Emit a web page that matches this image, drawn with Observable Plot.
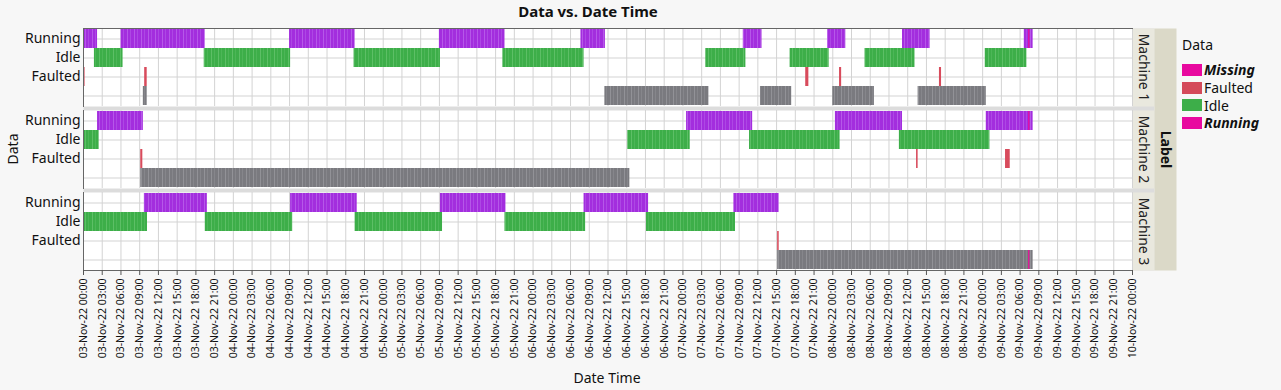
<!DOCTYPE html>
<html>
<head>
<meta charset="utf-8">
<script src="https://cdn.jsdelivr.net/npm/d3@7"></script>
<script src="https://cdn.jsdelivr.net/npm/@observablehq/plot@0.6"></script>
<style>
  html, body { margin: 0; padding: 0; background: #f7f7f7; }
  #wrap { position: relative; width: 1281px; height: 390px; font-family: 'Noto Sans', sans-serif; color: #111; overflow: hidden; }
  #title { position: absolute; left: 0; top: 1px; width: 1176px; text-align: center; font-size: 15px; font-weight: bold; line-height: 20px; }
  #chart { position: absolute; left: 0; top: 24px; }
  #ylab { position: absolute; left: 12px; top: 149px; transform: translate(-50%, -50%) rotate(-90deg); font-size: 14px; white-space: nowrap; }
  #xlab { position: absolute; left: 607px; top: 369px; transform: translateX(-50%); font-size: 14px; line-height: 18px; white-space: nowrap; }
  #legend { position: absolute; left: 1182px; top: 35px; font-size: 14px; }
  #legend .head { line-height: 20px; margin-bottom: 6px; }
  #legend .row { display: flex; align-items: center; height: 17.7px; }
  #legend .sw { width: 20px; height: 12px; margin-right: 2px; }
  #legend .bi { font-weight: bold; font-style: italic; }
</style>
</head>
<body>
<svg width="0" height="0" style="position:absolute">
  <defs>
    <pattern id="pRun" width="7" height="40" patternUnits="userSpaceOnUse">
      <rect width="7" height="40" fill="#a32ede"/>
      <rect x="1" width="1" height="40" fill="#b658e9"/>
      <rect x="4" width="1" height="40" fill="#ad48e4"/>
    </pattern>
    <pattern id="pIdle" width="7" height="40" patternUnits="userSpaceOnUse">
      <rect width="7" height="40" fill="#3dae49"/>
      <rect x="1" width="1" height="40" fill="#5dbf66"/>
      <rect x="4" width="1" height="40" fill="#4cb657"/>
    </pattern>
    <pattern id="pMiss" width="7" height="40" patternUnits="userSpaceOnUse">
      <rect width="7" height="40" fill="#7a7a7f"/>
      <rect x="1" width="1" height="40" fill="#929297"/>
      <rect x="4" width="1" height="40" fill="#86868b"/>
    </pattern>
  </defs>
</svg>
<div id="wrap">
  <div id="title">Data vs. Date Time</div>
  <div id="chart"></div>
  <div id="ylab">Data</div>
  <div id="xlab">Date Time</div>
  <div id="legend"></div>
</div>
<script>
// ---------- data ----------
const machines = ["Machine 1", "Machine 2", "Machine 3"];
const states = ["Running", "Idle", "Faulted", "Missing"];
const xRange = ["2022-11-03 00:00", "2022-11-10 00:00"];

const running = [
  ["Machine 1", "2022-11-03 00:00", "2022-11-03 02:15"],
  ["Machine 1", "2022-11-03 06:00", "2022-11-03 19:30"],
  ["Machine 1", "2022-11-04 09:00", "2022-11-04 19:30"],
  ["Machine 1", "2022-11-05 09:00", "2022-11-05 19:30"],
  ["Machine 1", "2022-11-06 07:40", "2022-11-06 11:35"],
  ["Machine 1", "2022-11-07 09:40", "2022-11-07 12:40"],
  ["Machine 1", "2022-11-07 23:10", "2022-11-08 02:05"],
  ["Machine 1", "2022-11-08 11:10", "2022-11-08 15:35"],
  ["Machine 1", "2022-11-09 06:40", "2022-11-09 08:05"],
  ["Machine 2", "2022-11-03 02:15", "2022-11-03 09:35"],
  ["Machine 2", "2022-11-07 00:35", "2022-11-07 11:10"],
  ["Machine 2", "2022-11-08 00:25", "2022-11-08 11:10"],
  ["Machine 2", "2022-11-09 00:35", "2022-11-09 08:05"],
  ["Machine 3", "2022-11-03 09:45", "2022-11-03 19:50"],
  ["Machine 3", "2022-11-04 09:10", "2022-11-04 19:50"],
  ["Machine 3", "2022-11-05 09:10", "2022-11-05 19:40"],
  ["Machine 3", "2022-11-06 08:10", "2022-11-06 18:30"],
  ["Machine 3", "2022-11-07 08:10", "2022-11-07 15:25"]
];

const idle = [
  ["Machine 1", "2022-11-03 01:45", "2022-11-03 06:20"],
  ["Machine 1", "2022-11-03 19:20", "2022-11-04 09:10"],
  ["Machine 1", "2022-11-04 19:20", "2022-11-05 09:10"],
  ["Machine 1", "2022-11-05 19:10", "2022-11-06 08:10"],
  ["Machine 1", "2022-11-07 03:40", "2022-11-07 10:05"],
  ["Machine 1", "2022-11-07 17:10", "2022-11-07 23:25"],
  ["Machine 1", "2022-11-08 05:10", "2022-11-08 13:10"],
  ["Machine 1", "2022-11-09 00:25", "2022-11-09 07:05"],
  ["Machine 2", "2022-11-03 00:00", "2022-11-03 02:30"],
  ["Machine 2", "2022-11-06 15:10", "2022-11-07 01:10"],
  ["Machine 2", "2022-11-07 10:40", "2022-11-08 01:10"],
  ["Machine 2", "2022-11-08 10:40", "2022-11-09 01:10"],
  ["Machine 3", "2022-11-03 00:00", "2022-11-03 10:15"],
  ["Machine 3", "2022-11-03 19:30", "2022-11-04 09:30"],
  ["Machine 3", "2022-11-04 19:30", "2022-11-05 09:30"],
  ["Machine 3", "2022-11-05 19:30", "2022-11-06 08:25"],
  ["Machine 3", "2022-11-06 18:10", "2022-11-07 08:25"]
];

const faulted = [
  ["Machine 1", "2022-11-03 00:00", "2022-11-03 00:15"],
  ["Machine 1", "2022-11-03 09:48", "2022-11-03 10:12"],
  ["Machine 1", "2022-11-07 19:40", "2022-11-07 20:10"],
  ["Machine 1", "2022-11-08 01:05", "2022-11-08 01:25"],
  ["Machine 1", "2022-11-08 17:05", "2022-11-08 17:25"],
  ["Machine 2", "2022-11-03 09:10", "2022-11-03 09:30"],
  ["Machine 2", "2022-11-08 13:25", "2022-11-08 13:40"],
  ["Machine 2", "2022-11-09 03:40", "2022-11-09 04:25"],
  ["Machine 3", "2022-11-07 15:10", "2022-11-07 15:25"]
];

const missing = [
  ["Machine 1", "2022-11-03 09:35", "2022-11-03 10:12"],
  ["Machine 1", "2022-11-06 11:30", "2022-11-07 04:10"],
  ["Machine 1", "2022-11-07 12:25", "2022-11-07 17:25"],
  ["Machine 1", "2022-11-08 00:00", "2022-11-08 06:40"],
  ["Machine 1", "2022-11-08 13:40", "2022-11-09 00:35"],
  ["Machine 2", "2022-11-03 09:10", "2022-11-06 15:30"],
  ["Machine 3", "2022-11-07 15:10", "2022-11-09 08:05"]
];

// highlighted (selected) rows
const highlighted = [
  ["Machine 1", "Running", "2022-11-09 07:22", "2022-11-09 07:34"],
  ["Machine 2", "Running", "2022-11-09 07:22", "2022-11-09 07:34"],
  ["Machine 3", "Missing", "2022-11-09 07:22", "2022-11-09 07:34"]
];

const legendItems = ["Missing", "Faulted", "Idle", "Running"];
const legendColors = ["#e8099f", "#d44a5a", "#3dae49", "#e8099f"];
const legendBoldItalic = [true, false, false, true];

// ---------- build ----------
const parse = d3.utcParse("%Y-%m-%d %H:%M");
const rows = (arr, state) => arr.map(([machine, s, e]) => ({machine, state, start: parse(s), end: parse(e)}));
const runRows = rows(running, "Running");
const idleRows = rows(idle, "Idle");
const faultRows = rows(faulted, "Faulted");
const missRows = rows(missing, "Missing");
const hiRows = highlighted.map(([machine, state, s, e]) => ({machine, state, start: parse(s), end: parse(e)}));

const x0 = parse(xRange[0]), x1 = parse(xRange[1]);
const xTicks = d3.utcHour.every(3).range(x0, new Date(+x1 + 1));

const W = 1180, ML = 83, MR = 48;
const plotW = W - ML - MR;
const bar = (data, fill) => Plot.barX(data, {x1: "start", x2: "end", y: "state", fy: "machine", fill});

const chart = Plot.plot({
  width: W,
  height: 366,
  marginLeft: ML,
  marginRight: MR,
  marginTop: 3,
  marginBottom: 120,
  style: {fontFamily: "'Noto Sans', sans-serif", background: "none", color: "#111", overflow: "visible"},
  x: {type: "utc", domain: [x0, x1]},
  y: {domain: states, padding: 0},
  fy: {domain: machines, paddingInner: 0.05, paddingOuter: 0, axis: null},
  marks: [
    Plot.frame({facet: "super", fill: "#dcdcdc", insetRight: -22}),
    Plot.frame({fill: "white"}),
    Plot.frame({fill: "#e9e8de", insetLeft: plotW, insetRight: -22}),
    Plot.gridX({ticks: xTicks, stroke: "#d3d3d3", strokeOpacity: 1}),
    Plot.gridY({stroke: "#d3d3d3", strokeOpacity: 1}),
    bar(idleRows, "url(#pIdle)"),
    bar(runRows, "url(#pRun)"),
    bar(faultRows, "#d84b5c"),
    bar(missRows, "url(#pMiss)"),
    bar(hiRows, "#ec0c9c"),
    Plot.frame({anchor: "left", stroke: "#666"}),
    Plot.frame({facet: "super", anchor: "top", stroke: "#666"}),
    Plot.frame({facet: "super", anchor: "bottom", stroke: "#666"}),
    Plot.axisY({tickSize: 0, tickPadding: 3, fontSize: 14, label: null, tickFormat: d => d === "Missing" ? "" : d}),
    Plot.axisX({ticks: xTicks, tickFormat: d3.utcFormat("%d-%b-%y %H:%M"), tickRotate: -90, tickSize: 5, tickPadding: 3, fontSize: 10.5, label: null, stroke: "#555"}),
    Plot.text(machines, {fy: d => d, text: d => d, frameAnchor: "right", textAnchor: "middle", dx: 11, rotate: 90, fontSize: 14, fill: "#222"}),
    Plot.frame({facet: "super", fill: "#dbd9c8", insetLeft: plotW + 22, insetRight: -44}),
    Plot.text(["Label"], {facet: "super", text: d => d, frameAnchor: "right", textAnchor: "middle", dx: 33, rotate: 90, fontSize: 14, fontWeight: "bold", fill: "#111"})
  ]
});
document.getElementById("chart").appendChild(chart);

const legend = document.getElementById("legend");
legend.innerHTML = `<div class="head">Data</div>` + legendItems.map((t, i) =>
  `<div class="row"><div class="sw" style="background:${legendColors[i]}"></div><span class="${legendBoldItalic[i] ? "bi" : ""}">${t}</span></div>`
).join("");
</script>
</body>
</html>
